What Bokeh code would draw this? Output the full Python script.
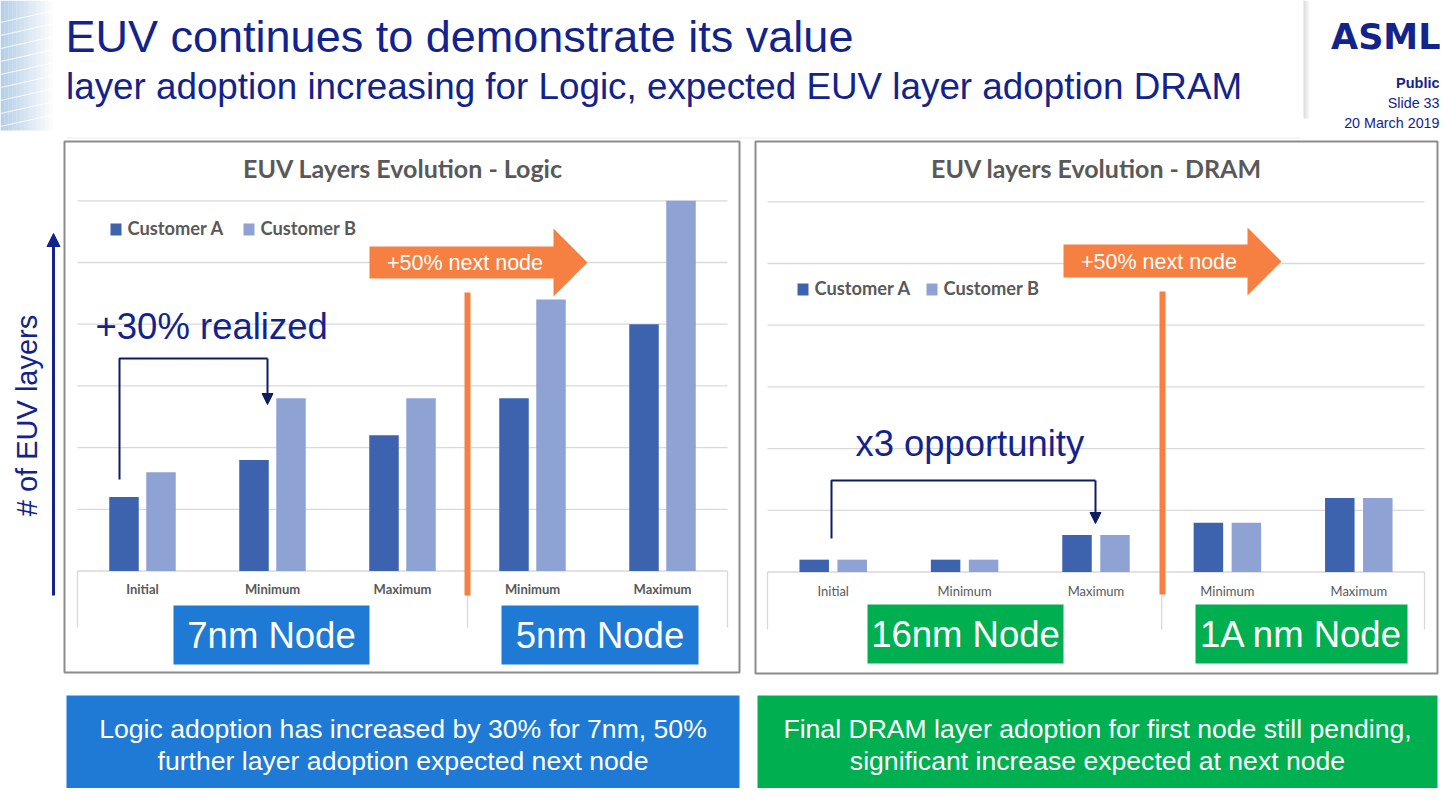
import math
from bokeh.plotting import figure
from bokeh.models import Range1d, ColumnDataSource, Arrow, NormalHead
from bokeh.transform import dodge
from bokeh.core.properties import value
from bokeh.embed import file_html
from bokeh.resources import INLINE

# ---------------- data ----------------
categories = ["Initial", "Minimum", "Maximum", "Minimum", "Maximum"]
series_names = ["Customer A", "Customer B"]
logic_customer_a = [6, 9, 11, 14, 20]
logic_customer_b = [8, 14, 14, 22, 30]
dram_customer_a = [1, 1, 3, 4, 6]
dram_customer_b = [1, 1, 3, 4, 6]
grid_values = [0, 5, 10, 15, 20, 25, 30]
logic_nodes = ["7nm Node", "5nm Node"]
dram_nodes = ["16nm Node", "1A nm Node"]
logic_title = "EUV Layers Evolution - Logic"
dram_title = "EUV layers Evolution - DRAM"

# ---------------- styles ----------------
NAVY = "#13238C"
BRACKET = "#0E1D63"
COL_A = "#3D63AE"
COL_B = "#8EA3D4"
GRID = "#D9D9D9"
GRAY_TXT = "#595959"
ORANGE = "#F68042"
BLUE_BOX = "#1E7AD4"
GREEN_BOX = "#00AF50"
ARIAL = value("Liberation Sans")
CAL = value("Lato")
KA, KL = 0.36, 0.46   # baseline correction (fraction of font size) for Arial-like / Lato texts

W, H = 1440, 788
X0, Y0 = 0, 0

p = figure(width=W, height=H, x_range=Range1d(X0, X0 + W), y_range=Range1d(Y0 + H, Y0),
           output_backend="svg", toolbar_location=None, min_border=0,
           x_axis_type=None, y_axis_type=None, outline_line_color=None,
           background_fill_color="white", border_fill_color="white")


def x_scale(px_center0, px_step):
    return Range1d((X0 - px_center0) / px_step, (X0 + W - px_center0) / px_step)


def y_scale(px_base, px_per_unit):
    return Range1d((px_base - (Y0 + H)) / px_per_unit, (px_base - Y0) / px_per_unit)


def txt(xs, ys, texts, size, font=ARIAL, k=KA, **kw):
    p.text(x=xs, y=[y - k * size for y in ys], text=texts, text_font=font,
           text_font_size=f"{size}px", text_baseline="alphabetic", **kw)


L_C0, L_STEP, L_BASE, PPU = 142.0, 130.0, 570.5, 61.7 / 5
D_C0, D_STEP, D_BASE = 832.7, 131.4, 571.5
p.extra_x_ranges = {"lx": x_scale(L_C0, L_STEP), "dx": x_scale(D_C0, D_STEP)}
p.extra_y_ranges = {"ly": y_scale(L_BASE, PPU), "dy": y_scale(D_BASE, PPU)}

# ---------------- header decoration ----------------
for i in range(13):
    p.quad(left=X0 + i * 4, right=X0 + i * 4 + 4, top=Y0, bottom=130,
           fill_color="#9DBFDF", fill_alpha=0.75 * (1 - i / 13), line_color=None)
for k in range(9):
    yy = 14 + k * 13
    p.line(x=[X0, 54], y=[yy + 8, yy - 4], line_color="white", line_width=1.2, line_alpha=0.8)
for i in range(6):
    p.quad(left=1303 + i, right=1304 + i, top=Y0, bottom=118,
           fill_color="#9A9A9A", fill_alpha=0.35 * (1 - i / 6), line_color=None)
p.line(x=[66, 1300], y=[137.5, 137.5], line_color="#EBEBEB", line_width=1)

txt([65], [52], ["EUV continues to demonstrate its value"], 45, text_color=NAVY)
txt([65.5], [99], ["layer adoption increasing for Logic, expected EUV layer adoption DRAM"], 36.8,
    text_color=NAVY)
txt([1440], [48], ["ASML"], 35, font=value("DejaVu Sans"), k=0.32, text_font_style="bold",
    text_color=NAVY, text_align="right")
txt([1439], [88], ["Public"], 14.5, k=0.38, text_font_style="bold", text_color=NAVY, text_align="right")
txt([1439, 1439], [107.5, 128], ["Slide 33", "20 March 2019"], 14.3, k=0.38, text_color=NAVY,
    text_align="right")

# ---------------- chart frames ----------------
p.quad(left=[64, 755], right=[739, 1437], top=[141, 141], bottom=[672, 673],
       fill_color="white", line_color="#8C8C8C", line_width=2)

# y-axis label with arrow
p.add_layout(Arrow(end=NormalHead(size=13, fill_color=NAVY, line_color=NAVY),
                   x_start=53, y_start=595, x_end=53, y_end=233, line_color=NAVY, line_width=3))
p.text(x=[37 - KA * 29], y=[415], text=["# of EUV layers"], angle=math.pi / 2, text_font=ARIAL,
       text_font_size="29px", text_color=NAVY, text_align="center", text_baseline="alphabetic")


def draw_chart(xr, yr, a_vals, b_vals, off, bw, sep_bottom, label_y, bold_labels, title, title_x):
    src = ColumnDataSource(dict(idx=list(range(len(categories))), cat=categories, a=a_vals, b=b_vals))
    p.segment(x0=-0.5, x1=4.5, y0=grid_values, y1=grid_values, line_color=GRID, line_width=1.3,
              x_range_name=xr, y_range_name=yr)
    p.vbar(x=dodge("idx", -off), top="a", bottom=0, width=bw, source=src, fill_color=COL_A,
           line_color=None, x_range_name=xr, y_range_name=yr)
    p.vbar(x=dodge("idx", off), top="b", bottom=0, width=bw, source=src, fill_color=COL_B,
           line_color=None, x_range_name=xr, y_range_name=yr)
    p.segment(x0=[-0.5, 2.5, 4.5], x1=[-0.5, 2.5, 4.5], y0=0, y1=sep_bottom, line_color=GRID,
              line_width=1.3, x_range_name=xr, y_range_name=yr)
    p.text(x="idx", y=label_y, text="cat", source=src, text_font=CAL,
           text_font_style="bold" if bold_labels else "normal", text_font_size="13px",
           text_color=GRAY_TXT, text_align="center", text_baseline="alphabetic",
           x_range_name=xr, y_range_name=yr)
    txt([title_x], [179], [title], 25, font=CAL, k=KL, text_font_style="bold",
        text_color=GRAY_TXT, text_align="center")


draw_chart("lx", "ly", logic_customer_a, logic_customer_b, 18.5 / L_STEP, 29.5 / L_STEP,
           (L_BASE - 627) / PPU, (L_BASE - 594 + KL * 13) / PPU, True, logic_title, 402.5)
draw_chart("dx", "dy", dram_customer_a, dram_customer_b, 19.0 / D_STEP, 29.5 / D_STEP,
           (D_BASE - 629) / PPU, (D_BASE - 596.5 + KL * 13) / PPU, False, dram_title, 1096)

# legends
p.quad(left=[110, 243, 797, 926], right=[121, 254, 808, 937], top=[223, 223, 283, 283],
       bottom=[235, 235, 295, 295], fill_color=[COL_A, COL_B, COL_A, COL_B], line_color=None)
txt([127, 260, 814, 943], [236, 236, 296, 296], series_names * 2, 18.3, font=CAL, k=KL,
    text_font_style="bold", text_color=GRAY_TXT)

# orange node separators and arrows
p.segment(x0=[467, 1162], x1=[467, 1162], y0=[292, 291], y1=[595, 594], line_color=ORANGE, line_width=6)
for (bx0, bx1, by0, by1, hy0, hy1, tip) in [(369, 553, 246, 278, 228, 296, 587),
                                             (1063, 1247, 244, 277, 227, 295, 1281)]:
    p.patch(x=[bx0, bx1, bx1, tip, bx1, bx1, bx0],
            y=[by0, by0, hy0, (hy0 + hy1) / 2, hy1, by1, by1], fill_color=ORANGE, line_color=None)
txt([464.5, 1158.5], [270, 269], ["+50% next node"] * 2, 21.5, text_color="white", text_align="center")

# annotation brackets
p.line(x=[119, 119, 267], y=[479, 358, 358], line_color=BRACKET, line_width=2)
p.add_layout(Arrow(end=NormalHead(size=11, fill_color=BRACKET, line_color=BRACKET),
                   x_start=267, y_start=358, x_end=267, y_end=404, line_color=BRACKET, line_width=2))
p.line(x=[831, 831, 1095], y=[538, 480, 480], line_color=BRACKET, line_width=2)
p.add_layout(Arrow(end=NormalHead(size=11, fill_color=BRACKET, line_color=BRACKET),
                   x_start=1095, y_start=480, x_end=1095, y_end=523, line_color=BRACKET, line_width=2))
txt([95], [339], ["+30% realized"], 36.5, text_color=NAVY)
txt([855], [456], ["x3 opportunity"], 36.4, text_color=NAVY)

# node boxes
p.quad(left=[173, 501], right=[369, 698], top=[605, 605], bottom=[664, 664], fill_color=BLUE_BOX, line_color=None)
p.quad(left=[867, 1195], right=[1063, 1407], top=[604, 604], bottom=[663, 663], fill_color=GREEN_BOX, line_color=None)
txt([271, 599.5, 965, 1301], [648, 648, 647, 647], logic_nodes + dram_nodes, 36.5,
    text_color="white", text_align="center")

# bottom message boxes
p.quad(left=[66], right=[739], top=[695], bottom=[793], fill_color=BLUE_BOX, line_color=None)
p.quad(left=[757], right=[1437], top=[695], bottom=[793], fill_color=GREEN_BOX, line_color=None)
txt([402.5, 402.5], [739, 771],
    ["Logic adoption has increased by 30% for 7nm, 50%", "further layer adoption expected next node"],
    26.6, k=0.40, text_color="white", text_align="center")
txt([1097, 1097], [739, 771],
    ["Final DRAM layer adoption for first node still pending,", "significant increase expected at next node"],
    26.6, k=0.40, text_color="white", text_align="center")

open("out.html", "w").write(file_html(p, INLINE))
